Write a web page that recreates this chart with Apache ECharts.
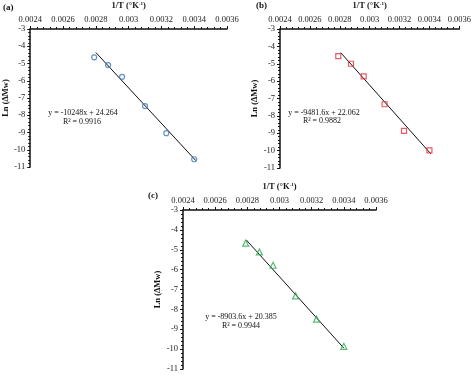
<!DOCTYPE html>
<html>
<head>
<meta charset="utf-8">
<script src="https://cdn.jsdelivr.net/npm/echarts@6/dist/echarts.min.js"></script>
<style>html,body{margin:0;padding:0;background:#fff}#c{width:474px;height:379px}</style>
</head>
<body>
<div id="c"></div>
<script>
// ---- data ----
var invT = [0.00279, 0.002875, 0.00296, 0.0031, 0.00323, 0.0034];
var lnA = [-4.64, -5.09, -5.77, -7.47, -9.04, -10.55];
var lnB = [-4.56, -5.00, -5.73, -7.33, -8.86, -9.99];
var lnC = [-4.67, -5.11, -5.78, -7.32, -8.49, -9.86];
var trendAX = [0.0028, 0.00341], trendAY = [-4.36, -10.63];
var trendBX = [0.002806, 0.00341], trendBY = [-4.36, -10.19];
var trendCX = [0.002794, 0.0034], trendCY = [-4.51, -9.95];
var eqA = ['y = -10248x + 24.264', 'R² = 0.9916'];
var eqB = ['y = -9481.6x + 22.062', 'R² = 0.9882'];
var eqC = ['y = -8903.6x + 20.385', 'R² = 0.9944'];
var panelTags = ['(a)', '(b)', '(c)'];
var xMin = 0.0024, xMax = 0.0036, xStep = 0.0002;
var yMin = -11, yMax = -3, yStep = 1;

function pairs(xs, ys){ return xs.map(function(x,i){ return [x, ys[i]]; }); }

var FONT = 'Liberation Serif';
var grids = [
  {left: 26, top: 24, width: 201, height: 143},
  {left: 280, top: 25.5, width: 180, height: 142.5},
  {left: 183, top: 210, width: 193, height: 159}
];
var xAxes = [], yAxes = [];
grids.forEach(function(g, i){
  xAxes.push({
    type: 'value', gridIndex: i, position: 'top', min: xMin, max: xMax, interval: xStep,
    name: '{n|1/T (°K}{s|-1}{n|)}', nameLocation: 'middle', nameGap: 19,
    nameTextStyle: {rich: {n: {fontFamily: FONT, fontWeight: 'bold', fontSize: 8.5, color: '#111'},
                           s: {fontFamily: FONT, fontWeight: 'bold', fontSize: 5, color: '#111', padding: [0,0,4,0]}}},
    axisLine: {show: true, onZero: false, lineStyle: {color: '#111', width: 1.5}},
    axisTick: {show: true, length: 3, lineStyle: {color: '#111'}},
    minorTick: {show: true, splitNumber: 5, length: 2, lineStyle: {color: '#111'}},
    splitLine: {show: false},
    axisLabel: {fontFamily: FONT, fontSize: 8.5, color: '#222', margin: 5}
  });
  yAxes.push({
    type: 'value', gridIndex: i, min: yMin, max: yMax, interval: yStep,
    name: 'Ln (ΔMw)', nameLocation: 'middle', nameGap: 17,
    nameTextStyle: {fontFamily: FONT, fontWeight: 'bold', fontSize: 8.5, color: '#111'},
    axisLine: {show: true, onZero: false, lineStyle: {color: '#111', width: 1.5}},
    axisTick: {show: true, length: 3, lineStyle: {color: '#111'}},
    minorTick: {show: true, splitNumber: 5, length: 2, lineStyle: {color: '#111'}},
    splitLine: {show: false},
    axisLabel: {fontFamily: FONT, fontSize: 8.5, color: '#222', margin: 5}
  });
});

function trend(i, xs, ys){
  return {type: 'line', xAxisIndex: i, yAxisIndex: i, data: pairs(xs, ys), symbol: 'none',
          lineStyle: {color: '#111', width: 1}, z: 2, silent: true};
}
function pts(i, ys, sym, col, size){
  return {type: 'scatter', xAxisIndex: i, yAxisIndex: i, data: pairs(invT, ys), symbol: sym, symbolSize: size,
          itemStyle: {color: 'rgba(255,255,255,0)', borderColor: col, borderWidth: 1.2}, z: 3};
}
function ctxt(cx, cy, s){
  return {type: 'text', x: cx, y: cy, style: {text: s, fontFamily: FONT, fontSize: 8, fill: '#111',
          align: 'center', verticalAlign: 'middle'}};
}

var chart = echarts.init(document.getElementById('c'), null, {renderer: 'canvas'});
chart.setOption({
  animation: false,
  backgroundColor: '#fff',
  grid: grids,
  xAxis: xAxes,
  yAxis: yAxes,
  series: [
    trend(0, trendAX, trendAY), pts(0, lnA, 'circle', '#3b78b5', 5),
    trend(1, trendBX, trendBY), pts(1, lnB, 'rect', '#e0323c', 5),
    trend(2, trendCX, trendCY), pts(2, lnC, 'triangle', '#35a853', 6)
  ],
  graphic: [
    {type: 'text', x: 3, y: 3, style: {text: panelTags[0], fontFamily: FONT, fontWeight: 'bold', fontSize: 9, fill: '#111'}},
    {type: 'text', x: 256, y: 1, style: {text: panelTags[1], fontFamily: FONT, fontWeight: 'bold', fontSize: 9, fill: '#111'}},
    {type: 'text', x: 148, y: 191, style: {text: panelTags[2], fontFamily: FONT, fontWeight: 'bold', fontSize: 9, fill: '#111'}},
    ctxt(83, 113, eqA[0]), ctxt(82, 122, eqA[1]),
    ctxt(324, 113, eqB[0]), ctxt(322, 121, eqB[1]),
    ctxt(241, 317, eqC[0]), ctxt(241, 326, eqC[1])
  ]
});
</script>
</body>
</html>
